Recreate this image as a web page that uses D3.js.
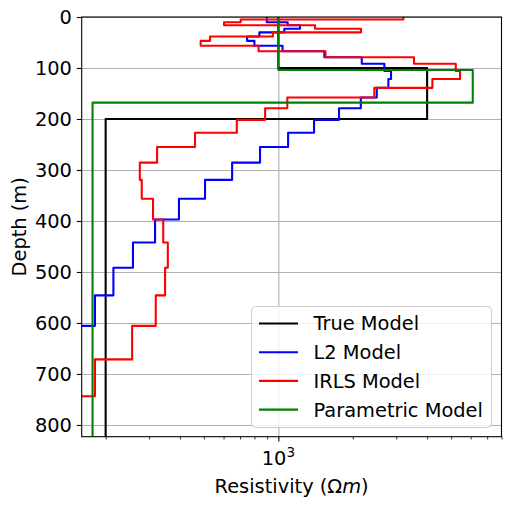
<!DOCTYPE html>
<html><head><meta charset="utf-8">
<script src="https://cdn.jsdelivr.net/npm/d3@7"></script>
<style>body{margin:0;background:#fff} text{font-family:"DejaVu Sans",sans-serif;fill:#000}</style>
</head><body><svg id="c" width="511" height="507"></svg>
<script>
// Layer boundaries (m) shared by the L2 and IRLS inversion models
const layerDepths = [4.9, 10.4, 16.3, 22.9, 30.1, 38.1, 46.8, 56.5, 67.1, 78.9, 91.8, 106.0, 121.7, 138.9, 157.9, 178.8, 201.7, 227.1, 254.9, 285.5, 319.3, 356.3, 397.2, 442.1, 491.6, 545.8, 605.6, 671.4, 743.8];
const l2Values = [898, 898, 1091, 1224, 1057, 838, 747, 800, 1040, 1535, 2176, 2685, 2858, 2788, 2502, 2156, 1760, 1395, 1095, 843, 650, 505, 396, 317, 258, 215, 181, 150, 140, 135];
const irlsValues = [3206, 704, 603, 1408, 2161, 950, 529, 485, 832, 1552, 3541, 5224, 5437, 4201, 2446, 1087, 884, 679, 460, 323, 275, 280, 311, 342, 357, 348, 319, 256, 181, 150];
const trueDepths = [100, 200];
const trueValues = [1000, 4000, 200];
const paramDepths = [104, 168];
const paramValues = [1000, 6120, 177];
const depthTicks = [0, 100, 200, 300, 400, 500, 600, 700, 800];
const resTicks = [1000];
const resMinorTicks = [200, 300, 400, 500, 600, 700, 800, 900, 2000, 3000, 4000, 5000, 6000, 7000, 8000];
const seriesNames = ["True Model", "L2 Model", "IRLS Model", "Parametric Model"];
const seriesColors = ["#000000", "#0000ff", "#ff0000", "#008000"];

const FS = 19.4;
const L = 81.7, R = 501.5, T = 17, B = 436.7;
const svg = d3.select("#c");
const x = d3.scaleLog().domain([160, 8000]).range([L, R]);
const y = d3.scaleLinear().domain([0, 823]).range([T, B]);

// grid
svg.append("g").attr("transform", `translate(0,${B})`)
  .call(d3.axisBottom(x).tickValues(resTicks).tickSize(-(B - T)).tickFormat(""))
  .call(g => { g.select(".domain").remove(); g.selectAll("line").attr("stroke", "#b0b0b0").attr("stroke-width", 1.1); });
svg.append("g").attr("transform", `translate(${L},0)`)
  .call(d3.axisLeft(y).tickValues(depthTicks).tickSize(-(R - L)).tickFormat(""))
  .call(g => { g.select(".domain").remove(); g.selectAll("line").attr("stroke", "#b0b0b0").attr("stroke-width", 1.1); });

svg.append("clipPath").attr("id", "clip").append("rect")
  .attr("x", L).attr("y", T).attr("width", R - L).attr("height", B - T);

function stepPoints(bounds, vals) {
  const pts = [];
  let top = 0;
  vals.forEach((v, i) => {
    const bot = i < bounds.length ? bounds[i] : 1000;
    pts.push([v, top], [v, bot]);
    top = bot;
  });
  return pts;
}
const line = d3.line().x(d => x(d[0])).y(d => y(d[1]));
const series = [
  stepPoints(trueDepths, trueValues),
  stepPoints(layerDepths, l2Values),
  stepPoints(layerDepths, irlsValues),
  stepPoints(paramDepths, paramValues)
];
const lg = svg.append("g").attr("clip-path", "url(#clip)");
series.forEach((pts, i) => {
  lg.append("path").attr("d", line(pts)).attr("fill", "none")
    .attr("stroke", seriesColors[i]).attr("stroke-width", 2.1)
    .attr("stroke-linejoin", "round").attr("stroke-linecap", "square");
});

// axes
const ax = svg.append("g").attr("transform", `translate(0,${B})`)
  .call(d3.axisBottom(x).tickValues(resTicks).tickSize(4.9).tickSizeOuter(0).tickFormat(""));
ax.select(".domain").remove();
ax.selectAll("line").attr("stroke", "#000").attr("stroke-width", 1.1);
const axm = svg.append("g").attr("transform", `translate(0,${B})`)
  .call(d3.axisBottom(x).tickValues(resMinorTicks).tickSize(2.8).tickSizeOuter(0).tickFormat(""));
axm.select(".domain").remove();
axm.selectAll("line").attr("stroke", "#000").attr("stroke-width", 0.8);
resTicks.forEach(v => {
  const t = svg.append("text").attr("x", x(v)).attr("y", 465).attr("text-anchor", "middle").attr("font-size", FS);
  t.append("tspan").text("10");
  t.append("tspan").attr("dy", -8.5).attr("font-size", FS * 0.7).text(String(Math.round(Math.log10(v))));
});
const ay = svg.append("g").attr("transform", `translate(${L},0)`)
  .call(d3.axisLeft(y).tickValues(depthTicks).tickSize(4.9).tickPadding(4.9).tickSizeOuter(0));
ay.select(".domain").remove();
ay.selectAll("line").attr("stroke", "#000").attr("stroke-width", 1.1);
ay.selectAll("text").attr("font-size", FS).attr("font-family", "DejaVu Sans").attr("fill", "#000").attr("dy", "0.36em");

svg.append("rect").attr("x", L).attr("y", T).attr("width", R - L).attr("height", B - T)
  .attr("fill", "none").attr("stroke", "#000").attr("stroke-width", 1.1);

// labels
const xl = svg.append("text").attr("x", (L + R) / 2).attr("y", 493).attr("text-anchor", "middle").attr("font-size", FS);
xl.append("tspan").text("Resistivity (");
xl.append("tspan").text("Ω");
xl.append("tspan").attr("font-style", "italic").text("m");
xl.append("tspan").text(")");
svg.append("text").attr("transform", `translate(25.5,${(T + B) / 2}) rotate(-90)`)
  .attr("text-anchor", "middle").attr("font-size", FS).text("Depth (m)");

// legend
const leg = svg.append("g");
leg.append("rect").attr("x", 251.5).attr("y", 306.5).attr("width", 240).attr("height", 121)
  .attr("rx", 4).attr("fill", "#fff").attr("fill-opacity", 0.8).attr("stroke", "#cccccc").attr("stroke-width", 1);
seriesNames.forEach((n, i) => {
  const cy = 323.5 + i * 28.7;
  leg.append("line").attr("x1", 259).attr("x2", 298).attr("y1", cy).attr("y2", cy)
    .attr("stroke", seriesColors[i]).attr("stroke-width", 2.1);
  leg.append("text").attr("x", 313.5).attr("y", cy).attr("dy", "0.36em").attr("font-size", FS).text(n);
});
</script></body></html>
